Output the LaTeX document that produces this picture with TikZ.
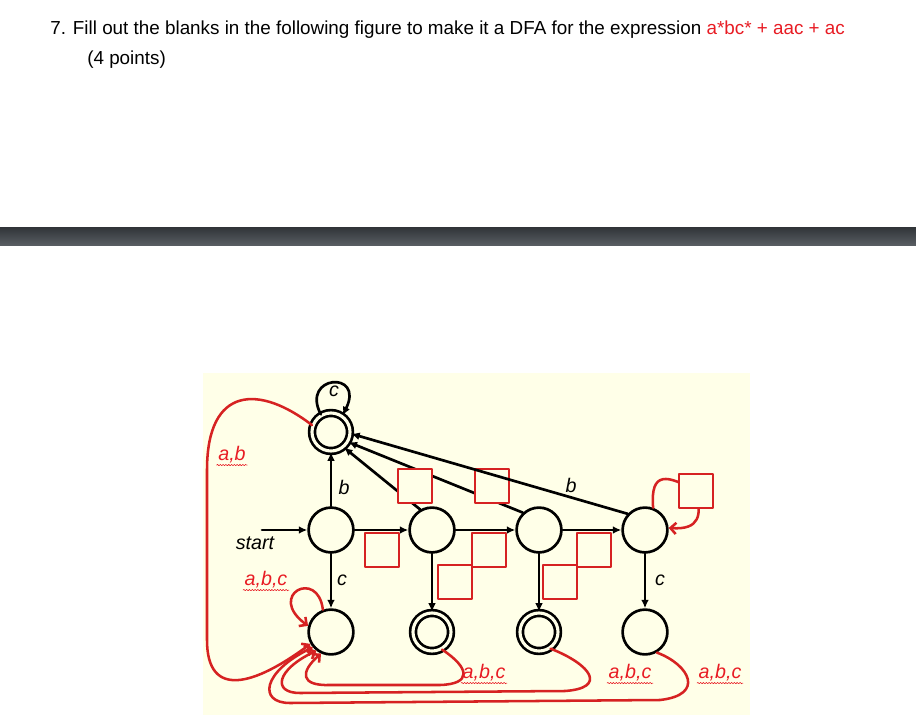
\documentclass[tikz,border=0pt]{standalone}
\usepackage{fontspec}
\setmainfont{Liberation Sans}
\usetikzlibrary{decorations.pathmorphing, arrows.meta}
\definecolor{paper}{RGB}{255,255,232}
\definecolor{boxred}{RGB}{214,34,34}
\definecolor{txtred}{RGB}{232,28,36}
\definecolor{barA}{RGB}{48,52,56}
\definecolor{barB}{RGB}{88,93,98}
\begin{document}
\begin{tikzpicture}[x=0.025cm, y=-0.025cm, line join=round, line cap=round,
    state/.style={circle, draw, line width=1.9pt, minimum size=1.12cm, inner sep=0pt, fill=paper},
    accept/.style={state, minimum size=0.95cm, double=paper, double distance=2.2pt},
    blank/.style={draw=boxred, line width=1.8pt, fill=paper, minimum size=0.85cm, inner sep=0pt},
    move/.style={line width=1.9pt, -{Latex[length=6pt, width=5.5pt]}},
    redmove/.style={draw=boxred, line width=1.8pt, -{Straight Barb[length=4pt, width=8pt]}},
    lab/.style={font=\fontsize{14}{16}\selectfont\itshape, inner sep=1pt},
    wavy/.style={draw=txtred, line width=0.4pt, decorate, decoration={snake, amplitude=0.5pt, segment length=2pt}},
    redlab/.style={lab, text=txtred, append after command={(\tikzlastnode.south west) edge[wavy] (\tikzlastnode.south east)}}]
    \useasboundingbox (0,0) rectangle (916,717);
    \fill[white] (0,0) rectangle (916,717);

    \node[anchor=base west, inner sep=0pt, font=\fontsize{13.4}{16}\selectfont] (title) at (50,34)
        {7. Fill out the blanks in the following figure to make it a DFA for the expression \textcolor{txtred}{a*bc* + aac + ac}};
    \node[anchor=base west, inner sep=0pt, font=\fontsize{13.4}{16}\selectfont] (points) at (87,64) {(4 points)};

    \shade[top color=barA, bottom color=barB] (0,227) rectangle (916,245);
    \fill[paper] (203,373) rectangle (750,715);

    \node[accept] (top) at (331,432) {};
    \node[state] (q0) at (331,530) {};
    \node[state] (q1) at (432,530) {};
    \node[state] (q2) at (539,530) {};
    \node[state] (q3) at (645,530) {};
    \node[state] (dead) at (331,632) {};
    \node[accept] (f1) at (432,632) {};
    \node[accept] (f2) at (539,632) {};
    \node[state] (f3) at (645,632) {};
    \coordinate (s) at (262,530);

    \draw[redmove] (top.160) .. controls (260,385) and (207,385) .. (207,470) -- (207,640)
        .. controls (207,700) and (255,685) .. (dead.210);
    \draw[redmove] (dead.110) .. controls (318,568) and (266,595) .. (dead.165);
    \draw[redmove] (f1.-60) .. controls (470,668) and (472,684) .. (440,685) -- (330,685)
        .. controls (300,686) and (300,672) .. (dead.245);
    \draw[redmove] (f2.-55) .. controls (592,665) and (607,688) .. (565,691) -- (300,693)
        .. controls (272,693) and (276,670) .. (dead.232);
    \draw[redmove] (f3.-60) .. controls (690,665) and (705,695) .. (660,700) -- (290,703)
        .. controls (258,703) and (262,672) .. (dead.220);
    \draw[redmove] (q3.70) .. controls (650,470) and (668,475) .. (696,491)
        .. controls (702,515) and (700,530) .. (q3.5);

    \draw[move] (s) -- (q0);
    \draw[move] (q0) -- (top);
    \draw[move] (q0) -- (q1);
    \draw[move] (q1) -- (q2);
    \draw[move] (q2) -- (q3);
    \draw[move] (q0) -- (dead);
    \draw[move] (q1) -- (f1);
    \draw[move] (q2) -- (f2);
    \draw[move] (q3) -- (f3);
    \draw[move] (top.120) .. controls (300,375) and (365,370) .. (top.55);
    \draw[move] (q1.120) -- (top.-50);
    \draw[move] (q2.133) -- (top.-30);

    \node[blank] (x1) at (415,486) {};
    \node[blank] (x2) at (492,486) {};
    \node[blank] (x3) at (382,550) {};
    \node[blank] (x4) at (489,550) {};
    \node[blank] (x5) at (455,582) {};
    \node[blank] (x6) at (594,550) {};
    \node[blank] (x7) at (560,582) {};
    \node[blank] (x8) at (696,491) {};

    \draw[move] (q3.137) -- (top.-5);

    \node[lab] (l-start) at (255,543) {start};
    \node[lab] (l-loop) at (334,391) {c};
    \node[lab] (l-q0top) at (344,487) {b};
    \node[lab] (l-q0dead) at (342,580) {c};
    \node[lab] (l-q3top) at (571,485) {b};
    \node[lab] (l-q3f3) at (660,580) {c};
    \node[redlab] (l-ab) at (232,455) {a,b};
    \node[redlab] (l-dead) at (266,580) {a,b,c};
    \node[redlab] (l-f1) at (484,673) {a,b,c};
    \node[redlab] (l-f2) at (630,673) {a,b,c};
    \node[redlab] (l-f3) at (720,673) {a,b,c};
\end{tikzpicture}
\end{document}
